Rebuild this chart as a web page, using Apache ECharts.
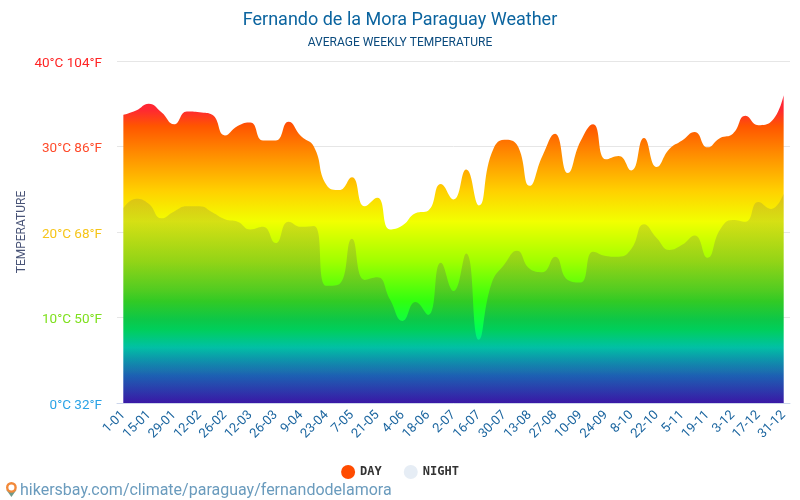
<!DOCTYPE html>
<html>
<head>
<meta charset="utf-8">
<title>Fernando de la Mora Paraguay Weather</title>
<style>
  html, body { margin: 0; padding: 0; background: #fff; }
  #chart { width: 800px; height: 500px; }
</style>
<script src="https://cdn.jsdelivr.net/npm/echarts@6/dist/echarts.min.js"></script>
</head>
<body>
<div id="chart"></div>
<script>
// weeks of the year
var weeks = ['1-01','8-01','15-01','22-01','29-01','5-02','12-02','19-02','26-02','5-03','12-03','19-03','26-03',
  '2-04','9-04','16-04','23-04','30-04','7-05','14-05','21-05','28-05','4-06','11-06','18-06','25-06',
  '2-07','9-07','16-07','23-07','30-07','6-08','13-08','20-08','27-08','3-09','10-09','17-09','24-09',
  '1-10','8-10','15-10','22-10','29-10','5-11','12-11','19-11','26-11','3-12','10-12','17-12','24-12','31-12'];

var dayTemp = [33.7,34.2,35.0,34.0,32.6,34.1,34.0,33.7,31.3,32.4,32.8,30.7,30.7,
  32.9,31.2,30.0,25.5,24.9,26.4,23.0,24.0,20.3,20.8,22.2,22.5,25.6,
  23.8,27.3,23.1,29.2,30.8,30.2,25.4,28.9,31.5,26.9,30.6,32.6,28.5,
  28.9,27.2,31.0,27.6,29.7,30.7,31.7,29.9,31.0,31.5,33.6,32.5,32.9,36.0];

var nightTemp = [22.8,23.9,23.3,21.6,22.4,23.0,23.0,22.3,21.5,21.2,20.3,20.6,18.7,
  21.2,20.6,20.7,13.7,13.9,19.2,14.4,14.7,12.1,9.6,11.8,10.3,16.4,
  13.1,17.5,7.4,14.0,16.2,17.8,15.7,15.3,17.1,14.4,14.1,17.7,17.2,
  17.1,18.0,20.9,19.3,17.9,18.5,19.6,17.0,20.3,21.4,21.2,23.5,22.7,24.5];

var tempTicks = [0, 10, 20, 30, 40];
var tempLabels = ['0°C 32°F', '10°C 50°F', '20°C 68°F', '30°C 86°F', '40°C 104°F'];
var tempLabelColors = ['#2ba3e6', '#7fe01e', '#f6c51a', '#ff4a2a', '#ff2424'];

// 每个刻度一个颜色
var tempRich = {};
tempTicks.forEach(function (t, i) {
  tempRich['t' + i] = { color: tempLabelColors[i], fontFamily: 'Roboto', fontSize: 13.5, padding: [5, 0, 0, 0] };
});

var chart = echarts.init(document.getElementById('chart'), null, { renderer: 'canvas' });

var option = {
  animation: false,
  title: [
    {
      text: 'Fernando de la Mora Paraguay Weather',
      left: 'center',
      top: 6,
      textStyle: { fontFamily: 'Roboto', fontSize: 18, fontWeight: 'normal', color: '#0b649f' }
    },
    {
      text: 'AVERAGE WEEKLY TEMPERATURE',
      left: 'center',
      top: 32,
      textStyle: { fontFamily: 'Roboto', fontSize: 12, fontWeight: 'normal', color: '#0a4a7d' }
    }
  ],
  legend: {
    top: 460,
    left: 'center',
    icon: 'circle',
    itemWidth: 14,
    itemHeight: 14,
    itemGap: 22,
    data: [
      { name: 'DAY', itemStyle: { color: '#ff4b00' } },
      { name: 'NIGHT', itemStyle: { color: '#e6edf5' } }
    ],
    textStyle: { fontFamily: 'DejaVu Sans Mono', fontSize: 12, fontWeight: 'bold', color: '#333' }
  },
  grid: { left: 117, right: 10, top: 61, bottom: 97 },
  xAxis: {
    type: 'category',
    data: weeks,
    boundaryGap: true,
    axisLine: { lineStyle: { color: '#ccd6eb' } },
    axisTick: { alignWithLabel: true, interval: 1, length: 9, lineStyle: { color: '#ccd6eb' } },
    axisLabel: { interval: 1, rotate: 45, fontFamily: 'Roboto', fontSize: 13, color: '#1b659f', margin: 10 },
    splitLine: { show: false }
  },
  yAxis: {
    type: 'value',
    min: 0,
    max: 40,
    interval: 10,
    name: 'TEMPERATURE',
    nameLocation: 'middle',
    nameGap: 89,
    nameMoveOverlap: false,
    nameTextStyle: { fontFamily: 'Roboto', fontSize: 12, color: '#4a5578' },
    axisLine: { show: false },
    axisTick: { show: false },
    axisLabel: {
      margin: 15,
      formatter: function (v) {
        var i = tempTicks.indexOf(v);
        return '{t' + i + '|' + tempLabels[i] + '}';
      },
      rich: tempRich
    },
    splitLine: { lineStyle: { color: '#e6e6e6' } }
  },
  series: [
    {
      name: 'DAY',
      type: 'line',
      data: dayTemp,
      smooth: 0.5,
      symbol: 'none',
      itemStyle: { color: '#ff4b00' },
      lineStyle: { width: 0 },
      areaStyle: {
        opacity: 1,
        color: new echarts.graphic.LinearGradient(0, 0, 0, 1, [
          { offset: 0, color: '#ff1f35' },
          { offset: 0.05, color: '#ff2a30' },
          { offset: 0.1, color: '#ff5500' },
          { offset: 0.19, color: '#ff8c00' },
          { offset: 0.31, color: '#ffd000' },
          { offset: 0.41, color: '#f2ff00' },
          { offset: 0.54, color: '#a0ff00' },
          { offset: 0.67, color: '#30ff10' },
          { offset: 0.76, color: '#00ff55' },
          { offset: 0.82, color: '#00e0b0' },
          { offset: 0.91, color: '#0a60d0' },
          { offset: 1, color: '#2a00c0' }
        ])
      }
    },
    {
      name: 'NIGHT',
      type: 'line',
      data: nightTemp,
      smooth: 0.5,
      symbol: 'none',
      itemStyle: { color: '#e6edf5' },
      lineStyle: { width: 0 },
      areaStyle: {
        opacity: 1,
        color: new echarts.graphic.LinearGradient(0, 0, 0, 1, [
          { offset: 0, color: 'rgba(100,100,100,0.2)' },
          { offset: 0.13, color: 'rgba(100,100,100,0.2)' },
          { offset: 0.46, color: 'rgba(90,0,120,0.2)' },
          { offset: 0.6, color: 'rgba(0,0,110,0.22)' },
          { offset: 0.72, color: 'rgba(0,0,110,0.15)' },
          { offset: 0.85, color: 'rgba(100,100,60,0.2)' },
          { offset: 1, color: 'rgba(120,120,60,0.2)' }
        ])
      }
    }
  ],
  graphic: [
    {
      type: 'text',
      left: 20,
      top: 483,
      style: { text: 'hikersbay.com/climate/paraguay/fernandodelamora', fontFamily: 'Roboto', fontSize: 16, fill: '#6a9bbd' }
    },
    {
      // 地图图标
      type: 'group',
      left: 6,
      top: 482,
      children: [
        { type: 'polygon', shape: { points: [[1, 8], [11, 8], [6, 15]] }, style: { fill: '#6f9a8a' } },
        { type: 'circle', shape: { cx: 6, cy: 5.5, r: 4.2 }, style: { fill: '#fff', stroke: '#f2893a', lineWidth: 2.4 } }
      ]
    }
  ]
};

chart.setOption(option);
</script>
</body>
</html>
